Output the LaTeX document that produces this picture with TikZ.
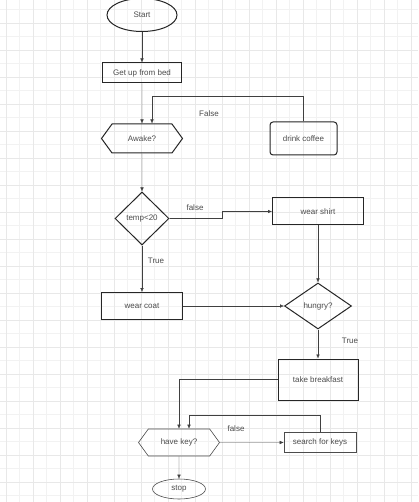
\documentclass[tikz,border=0pt]{standalone}
\usepackage{fontspec}
\setmainfont{Liberation Sans}
\usetikzlibrary{shapes.geometric,shapes.symbols,arrows.meta}

\begin{document}
\begin{tikzpicture}[x=1pt,y=-1pt,
    every node/.style={font=\fontsize{8}{9.6}\selectfont, text=black!70},
    box/.style={draw=black!85, line width=1pt, inner sep=0pt},
    thinbox/.style={draw=black!70, semithick, inner sep=0pt},
    hexa/.style={signal, signal to=east and west, signal pointer angle=108, inner sep=0pt},
    arr/.style={draw=black!75, -{Latex[length=4pt,width=3.5pt]}},
    minorline/.style={black!5, line width=0.5pt},
    majorline/.style={black!9, line width=0.6pt}]
      \useasboundingbox (0,0) rectangle (418,502);
      \fill[white] (0,0) rectangle (418,502);
      % background grid
      \foreach \gx in {6,19.5,...,418} \draw[minorline] (\gx,0) -- (\gx,502);
      \foreach \gy in {-4,9.5,...,502} \draw[minorline] (0,\gy) -- (418,\gy);
      \foreach \gx in {6,33,...,418} \draw[majorline] (\gx,0) -- (\gx,502);
      \foreach \gy in {-4,23,...,502} \draw[majorline] (0,\gy) -- (418,\gy);

      \node[box,ellipse,minimum width=70,minimum height=33] (start) at (142,15) {Start};
      \node[box,minimum width=79,minimum height=20] (getup) at (142,73) {Get up from bed};
      \node[box,hexa,minimum width=81,minimum height=29] (awake) at (142,138.5) {Awake?};
      \node[box,rounded corners=3pt,minimum width=67,minimum height=33] (coffee) at (303.5,138.5) {drink coffee};
      \node[box,diamond,minimum width=54,minimum height=53] (temp) at (142,218.5) {temp<20};
      \node[box,minimum width=91,minimum height=27] (shirt) at (318,211.5) {wear shirt};
      \node[box,minimum width=81,minimum height=27] (coat) at (142,306) {wear coat};
      \node[box,diamond,minimum width=67,minimum height=46] (hungry) at (318,306) {hungry?};
      \node[box,minimum width=80,minimum height=41] (breakfast) at (318,379.5) {take breakfast};
      \node[thinbox,hexa,minimum width=81,minimum height=27] (havekey) at (179,442.5) {have key?};
      \node[thinbox,minimum width=72,minimum height=20] (search) at (320,442.5) {search for keys};
      \node[thinbox,ellipse,minimum width=53,minimum height=20] (stop) at (179,489) {stop};

      \draw[arr] (start) -- (getup);
      \draw[arr] (getup) -- (awake);
      \draw[arr] (coffee.north) -- ++(0,-25) -| ([xshift=10]awake.north);
      \node (lfalse1) at (209,114) {False};
      \draw[arr] (awake) -- (temp);
      \draw[arr] (temp.east) -- ++(53,0) |- (shirt.west);
      \node (lfalse2) at (195,208) {false};
      \draw[arr] (temp) -- (coat);
      \node (ltrue1) at (156,261) {True};
      \draw[arr] (shirt) -- (hungry);
      \draw[arr] (coat) -- (hungry);
      \draw[arr] (hungry) -- (breakfast);
      \node (ltrue2) at (350,341) {True};
      \draw[arr] (breakfast.west) -| (havekey.north);
      \draw[arr] (search.north) -- ++(0,-17) -| ([xshift=10]havekey.north);
      \draw[arr] (havekey) -- (search);
      \node (lfalse3) at (236,429) {false};
      \draw[arr] (havekey) -- (stop);
\end{tikzpicture}
\end{document}
